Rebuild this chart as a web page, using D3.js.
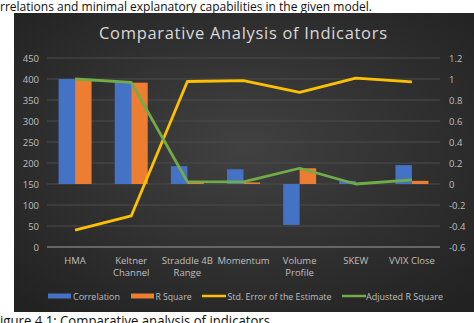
<!DOCTYPE html>
<html><head><meta charset="utf-8">
<script src="https://cdn.jsdelivr.net/npm/d3@7"></script>
<style>body{margin:0;background:#fff;overflow:hidden}svg{display:block}</style>
</head><body>
<script>
const categories = [["HMA"], ["Keltner","Channel"], ["Straddle 4B","Range"], ["Momentum"], ["Volume","Profile"], ["SKEW"], ["VVIX Close"]];
const correlation = [1.0, 0.97, 0.17, 0.14, -0.39, 0.03, 0.18];
const rSquare = [1.0, 0.965, 0.025, 0.015, 0.15, 0.003, 0.03];
const stdError = [40, 74, 394, 396, 368, 402, 393];
const adjRSquare = [1.0, 0.968, 0.022, 0.02, 0.15, 0.0, 0.04];
const leftTicks = [0,50,100,150,200,250,300,350,400,450];
const rightTicks = [-0.6,-0.4,-0.2,0,0.2,0.4,0.6,0.8,1,1.2];
const seriesNames = ["Correlation","R Square","Std. Error of the Estimate","Adjusted R Square"];

const W=474,H=323;
const svg=d3.select("body").append("svg").attr("width",W).attr("height",H);
const defs=svg.append("defs");
const rg=defs.append("radialGradient").attr("id","bg").attr("cx","50%").attr("cy","45%").attr("r","70%");
rg.append("stop").attr("offset","0%").attr("stop-color","#414141");
rg.append("stop").attr("offset","100%").attr("stop-color","#222222");

// surrounding document text
svg.append("text").attr("x",0).attr("y",11).attr("font-family","Open Sans, sans-serif").attr("font-size",12.5)
  .attr("fill","#111").attr("textLength",372).attr("lengthAdjust","spacingAndGlyphs")
  .text("rrelations and minimal explanatory capabilities in the given model.");

svg.append("rect").attr("x",14).attr("y",13).attr("width",W-14).attr("height",299).attr("fill","url(#bg)");

svg.append("text").attr("x",0).attr("y",326).attr("font-family","Open Sans, sans-serif").attr("font-size",14)
  .attr("fill","#111").attr("textLength",270).attr("lengthAdjust","spacingAndGlyphs")
  .text("igure 4.1: Comparative analysis of indicators");

svg.append("text").attr("x",243).attr("y",39).attr("text-anchor","middle")
  .attr("font-family","Open Sans, sans-serif").attr("font-size",16.5).attr("fill","#d9d9d9")
  .attr("textLength",288).attr("lengthAdjust","spacing")
  .text("Comparative Analysis of Indicators");

const x0=47,x1=440,yTop=58,yBot=247;
const x=d3.scaleBand().domain(d3.range(categories.length)).range([x0,x1]);
const xs=d3.scaleBand().domain([0,1]).range([0,33]);
const yL=d3.scaleLinear().domain([0,450]).range([yBot,yTop]);
const yR=d3.scaleLinear().domain([-0.6,1.2]).range([yBot,yTop]);

// gridlines
svg.append("g").selectAll("line").data(leftTicks.slice(1)).join("line")
  .attr("x1",x0).attr("x2",x1).attr("y1",d=>yL(d)).attr("y2",d=>yL(d))
  .attr("stroke","#4d4d4d").attr("stroke-width",1);
svg.append("line").attr("x1",x0).attr("x2",x1).attr("y1",yBot).attr("y2",yBot)
  .attr("stroke","#7a7a7a").attr("stroke-width",1.5);

const tickFont={"font-family":"Open Sans, sans-serif","font-size":9.5,"fill":"#bfbfbf"};
const gl=svg.append("g").attr("transform",`translate(${x0-8},0)`)
  .call(d3.axisLeft(yL).tickValues(leftTicks).tickSize(0).tickPadding(0));
gl.select(".domain").remove();
gl.selectAll("text").attr("font-family",tickFont["font-family"]).attr("font-size",tickFont["font-size"]).attr("fill",tickFont.fill);
const gr=svg.append("g").attr("transform",`translate(${x1+9},0)`)
  .call(d3.axisRight(yR).tickValues(rightTicks).tickSize(0).tickPadding(0));
gr.select(".domain").remove();
gr.selectAll("text").attr("font-family",tickFont["font-family"]).attr("font-size",tickFont["font-size"]).attr("fill",tickFont.fill)
  .text(d=>{const v=+d.toFixed(1);return v<0?"-"+Math.abs(v):String(v);});

// category labels
const cl=svg.append("g");
categories.forEach((c,i)=>{
  const t=cl.append("text").attr("x",x(i)+x.bandwidth()/2).attr("y",264).attr("text-anchor","middle")
    .attr("font-family","Open Sans, sans-serif").attr("font-size",9.5).attr("fill","#bfbfbf");
  c.forEach((line,j)=>t.append("tspan").attr("x",x(i)+x.bandwidth()/2).attr("dy",j?11.5:0).text(line));
});

// bars
const colors=["#4472c4","#ed7d31","#ffc000","#70ad47"];
const barSeries=[correlation,rSquare];
barSeries.forEach((s,k)=>{
  svg.append("g").selectAll("rect").data(s).join("rect")
    .attr("x",(d,i)=>x(i)+x.bandwidth()/2-16.5+xs(k)).attr("width",xs.bandwidth())
    .attr("y",d=>yR(Math.max(0,d))).attr("height",d=>Math.abs(yR(d)-yR(0)))
    .attr("fill",colors[k]);
});

const cx=i=>x(i)+x.bandwidth()/2;
svg.append("path").datum(stdError).attr("fill","none").attr("stroke",colors[2]).attr("stroke-width",2.8)
  .attr("stroke-linejoin","round").attr("d",d3.line().x((d,i)=>cx(i)).y(d=>yL(d)));
svg.append("path").datum(adjRSquare).attr("fill","none").attr("stroke",colors[3]).attr("stroke-width",2.8)
  .attr("stroke-linejoin","round").attr("d",d3.line().x((d,i)=>cx(i)).y(d=>yR(d)));

// legend
const lg=svg.append("g");
const legItems=[{sx:48,tx:73,w:47,type:"bar"},{sx:131,tx:155.5,w:36,type:"bar"},{sx:202,tx:227.5,w:104,type:"line"},{sx:342,tx:366,w:77,type:"line"}];
legItems.forEach((it,k)=>{
  if(it.type==="bar") lg.append("rect").attr("x",it.sx).attr("y",293.5).attr("width",23).attr("height",5).attr("fill",colors[k]);
  else lg.append("line").attr("x1",it.sx).attr("x2",it.sx+24).attr("y1",296).attr("y2",296).attr("stroke",colors[k]).attr("stroke-width",2.5);
  lg.append("text").attr("x",it.tx).attr("y",299.5).attr("font-family","Open Sans, sans-serif").attr("font-size",9.5)
    .attr("fill","#bfbfbf").attr("textLength",it.w).attr("lengthAdjust","spacingAndGlyphs").text(seriesNames[k]);
});
</script>
</body></html>
